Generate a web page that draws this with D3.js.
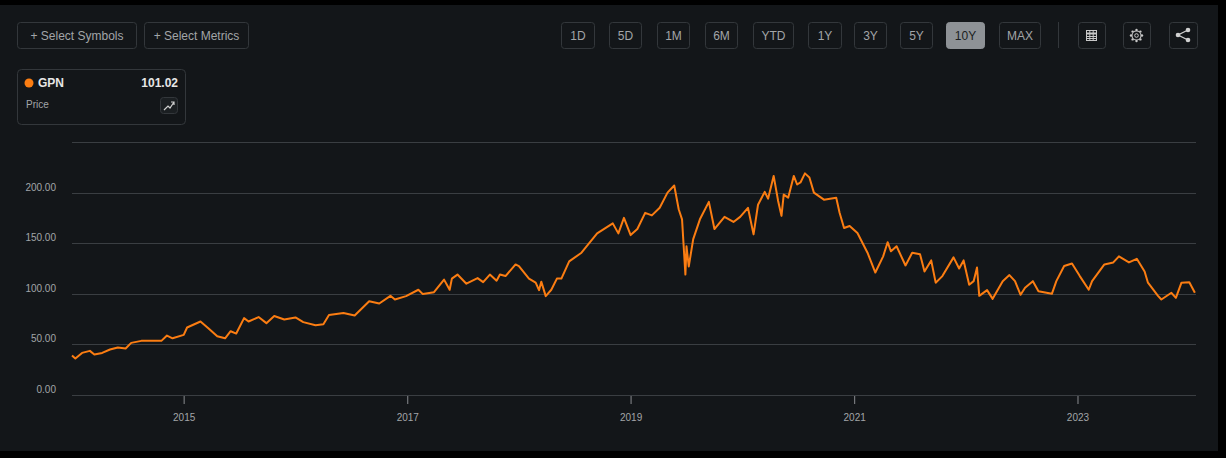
<!DOCTYPE html>
<html>
<head>
<meta charset="utf-8">
<script src="https://cdn.jsdelivr.net/npm/d3@7"></script>
<style>
  html, body { margin: 0; padding: 0; background: #000; }
  svg { display: block; font-family: "Liberation Sans", Arial, sans-serif; }
</style>
</head>
<body>
<div id="chart"></div>
<script>
// price series, time as decimal year
const years = [2014.0, 2014.03, 2014.09, 2014.16, 2014.2, 2014.27, 2014.34, 2014.41, 2014.48, 2014.53, 2014.62, 2014.8, 2014.85, 2014.9, 2015.0,
  2015.03, 2015.15, 2015.22, 2015.3, 2015.37, 2015.42, 2015.47, 2015.54, 2015.58, 2015.67, 2015.74, 2015.81, 2015.9, 2016.0,
  2016.07, 2016.18, 2016.25, 2016.3, 2016.43, 2016.53, 2016.66, 2016.75, 2016.85, 2016.89, 2016.99,
  2017.1, 2017.14, 2017.24, 2017.33, 2017.38, 2017.4, 2017.45, 2017.53, 2017.63, 2017.68, 2017.74, 2017.8, 2017.83, 2017.88, 2017.97,
  2018.0, 2018.09, 2018.15, 2018.18, 2018.2, 2018.24, 2018.29, 2018.34, 2018.38, 2018.45, 2018.56, 2018.7, 2018.84, 2018.89, 2018.94,
  2019.0, 2019.06, 2019.13, 2019.19, 2019.26, 2019.33, 2019.39, 2019.43, 2019.46, 2019.49, 2019.5, 2019.52, 2019.56, 2019.62, 2019.7,
  2019.75, 2019.84, 2019.92, 2019.98, 2020.05, 2020.1, 2020.14, 2020.2, 2020.23, 2020.28, 2020.32, 2020.35, 2020.37, 2020.41, 2020.46,
  2020.49, 2020.52, 2020.56, 2020.6, 2020.64, 2020.73, 2020.84, 2020.87, 2020.91, 2020.96, 2021.03, 2021.12, 2021.19, 2021.26, 2021.3,
  2021.33, 2021.38, 2021.46, 2021.52, 2021.59, 2021.63, 2021.69, 2021.73, 2021.79, 2021.89, 2021.94, 2021.98, 2022.03, 2022.07, 2022.1,
  2022.12, 2022.19, 2022.24, 2022.33, 2022.39, 2022.44, 2022.49, 2022.53, 2022.6, 2022.65, 2022.77, 2022.81, 2022.88, 2022.95, 2023.02,
  2023.1, 2023.13, 2023.24, 2023.32, 2023.37, 2023.46, 2023.53, 2023.6, 2023.63, 2023.72, 2023.75, 2023.84, 2023.88, 2023.93, 2024.0, 2024.05];
const prices = [39, 36, 41.6, 43.6, 40, 41.6, 45, 47, 46, 51.5, 53.5, 53.5, 58.7, 56, 59.4,
  66.7, 72.6, 66, 58, 56, 63, 60.7, 76, 72.6, 77, 71, 78, 74.6, 76.6,
  72, 69, 70, 79, 81, 78.5, 92.7, 90.4, 98, 94.4, 97.7,
  104, 99.7, 101.6, 114, 104, 115, 119, 110, 115.5, 111.5, 119, 113, 119, 117.5, 129,
  127.4, 115, 111, 103.6, 112, 97.7, 104, 115, 115, 132, 140.6, 159.7, 169.6, 159.7, 175,
  158, 164, 180, 177.5, 185, 200, 207, 183.5, 173.6, 119, 147, 127, 154, 173.6, 190.8,
  164, 176, 171, 176, 185, 158.7, 188, 200.7, 194, 216.5, 191.7, 177, 198, 195, 216.5,
  208, 210, 219, 215, 200, 193, 195, 180, 165, 167, 160, 140.6, 121, 137, 151,
  142, 147, 128, 140.6, 139, 122, 133, 111, 117.5, 136, 125, 133, 109, 112.5, 126,
  98, 103.6, 95, 112.5, 118.5, 112.5, 99, 106, 112.5, 102.6, 100, 112.5, 127.4, 130, 117.5,
  104, 112.5, 129, 131, 137, 131, 134.6, 122, 111, 98, 94.4, 101, 96, 111, 111.5, 101];
const yTicks = [0, 50, 100, 150, 200, 250];
const xTickYears = [2015, 2017, 2019, 2021, 2023];
const ranges = ["1D", "5D", "1M", "6M", "YTD", "1Y", "3Y", "5Y", "10Y", "MAX"];
const activeRange = "10Y";

const W = 1226, H = 458;
const toDate = y => new Date(Date.UTC(2014, 0, 1) + (y - 2014) * 365.25 * 864e5);
const data = years.map((y, i) => ({ date: toDate(y), value: prices[i] }));

const svg = d3.select("#chart").append("svg").attr("width", W).attr("height", H);
svg.append("rect").attr("width", W).attr("height", H).attr("fill", "#000");
svg.append("rect").attr("x", 0).attr("y", 5).attr("width", 1218).attr("height", 446).attr("fill", "#131619");

// top-left buttons
function button(x, y, w, h, label, opts = {}) {
  const g = svg.append("g");
  g.append("rect").attr("x", x + 0.5).attr("y", y + 0.5).attr("width", w).attr("height", h).attr("rx", 3)
    .attr("fill", opts.fill || "none").attr("stroke", opts.stroke || "#33373b");
  if (label) g.append("text").attr("x", x + w / 2 + 0.5).attr("y", y + h / 2 + 4.5).attr("text-anchor", "middle")
    .attr("font-size", 12).attr("fill", opts.color || "#a2a5a8").text(label);
  return g;
}
button(17, 22, 119, 26, "+ Select Symbols");
button(144, 22, 104, 26, "+ Select Metrics");

// legend card
svg.append("rect").attr("x", 17.5).attr("y", 69.5).attr("width", 168).attr("height", 55).attr("rx", 4)
  .attr("fill", "none").attr("stroke", "#33373b");
svg.append("circle").attr("cx", 29).attr("cy", 83).attr("r", 4.5).attr("fill", "#fb7d12");
svg.append("text").attr("x", 38).attr("y", 87).attr("font-size", 12).attr("font-weight", "bold").attr("fill", "#e6e6e6").text("GPN");
svg.append("text").attr("x", 178).attr("y", 87).attr("text-anchor", "end").attr("font-size", 12).attr("font-weight", "bold").attr("fill", "#e6e6e6").text("101.02");
svg.append("text").attr("x", 26).attr("y", 108).attr("font-size", 10).attr("fill", "#a2a5a8").text("Price");
svg.append("rect").attr("x", 160.5).attr("y", 97.5).attr("width", 17).attr("height", 16).attr("rx", 3).attr("fill", "#1b1f22").attr("stroke", "#33373b");
svg.append("path").attr("d", "M164 110 L168 106 L170 108 L174 102 M171 102 L174 102 L174 105").attr("fill", "none").attr("stroke", "#d0d0d0").attr("stroke-width", 1.2);

// range buttons
const rx = [561, 609, 657, 705, 753, 808, 854, 900, 946, 999];
const rw = [33, 32, 32, 32, 40, 33, 32, 32, 38, 41];
ranges.forEach((r, i) => {
  const active = r === activeRange;
  button(rx[i], 22, rw[i], 26, r, active ? { fill: "#8e9296", stroke: "#8e9296", color: "#1b1e21" } : {});
});
svg.append("line").attr("x1", 1058.5).attr("x2", 1058.5).attr("y1", 22).attr("y2", 48).attr("stroke", "#33373b");
// icon buttons
button(1078, 22, 27, 26);
button(1123, 22, 27, 26);
button(1169, 22, 28, 26);
const tbl = svg.append("g").attr("stroke", "#c8c8c8").attr("fill", "none");
tbl.append("rect").attr("x", 1086.5).attr("y", 30.5).attr("width", 10).attr("height", 10);
tbl.append("line").attr("x1", 1086.5).attr("x2", 1096.5).attr("y1", 33.5).attr("y2", 33.5).attr("stroke-width", 2);
[36.5, 38.5].forEach(y => tbl.append("line").attr("x1", 1086.5).attr("x2", 1096.5).attr("y1", y).attr("y2", y));
[89.8, 93.2].forEach(x => tbl.append("line").attr("x1", 1000 + x).attr("x2", 1000 + x).attr("y1", 30.5).attr("y2", 40.5));
// gear
const gear = d3.range(8).map(i => {
  const a = i * Math.PI / 4;
  return [1136.5 + Math.cos(a) * 5.5, 35.5 + Math.sin(a) * 5.5];
});
svg.append("g").selectAll("circle.tooth").data(gear).join("circle")
  .attr("cx", d => d[0]).attr("cy", d => d[1]).attr("r", 1.2).attr("fill", "#c8c8c8");
svg.append("circle").attr("cx", 1136.5).attr("cy", 35.5).attr("r", 4.5).attr("fill", "#131619").attr("stroke", "#c8c8c8").attr("stroke-width", 1.1);
svg.append("circle").attr("cx", 1136.5).attr("cy", 35.5).attr("r", 1.8).attr("fill", "none").attr("stroke", "#c8c8c8");
// share
const sh = svg.append("g").attr("fill", "#d0d0d0");
sh.append("path").attr("d", "M1188 30 L1178 35 L1188 40").attr("stroke", "#d0d0d0").attr("fill", "none").attr("stroke-width", 1.3);
[[1188, 30], [1178, 35], [1188, 40]].forEach(p => sh.append("circle").attr("cx", p[0]).attr("cy", p[1]).attr("r", 2.3));

// plot
const x = d3.scaleTime().domain([toDate(2014.0), toDate(2024.06)]).range([72, 1196]);
const y = d3.scaleLinear().domain([0, 250]).range([395, 142]);

svg.append("g").selectAll("line").data(yTicks).join("line")
  .attr("x1", 72).attr("x2", 1196).attr("y1", d => Math.round(y(d)) + 0.5).attr("y2", d => Math.round(y(d)) + 0.5)
  .attr("stroke", "#3a3e42").attr("stroke-width", 1);
svg.append("g").selectAll("text").data(yTicks.filter(d => d <= 200)).join("text")
  .attr("x", 56).attr("y", d => y(d) - 2).attr("text-anchor", "end").attr("font-size", 10).attr("fill", "#a2a5a8")
  .text(d => d3.format(".2f")(d));

const xAxis = d3.axisBottom(x).tickValues(xTickYears.map(yr => new Date(Date.UTC(yr, 0, 1))))
  .tickFormat(d3.utcFormat("%Y")).tickSize(8).tickPadding(10);
const gx = svg.append("g").attr("transform", "translate(0,396)").call(xAxis);
gx.select(".domain").remove();
gx.selectAll("line").attr("stroke", "#8a8d90");
gx.selectAll("text").attr("fill", "#a2a5a8").attr("font-size", 10).attr("font-family", "Liberation Sans, Arial, sans-serif");

const line = d3.line().x(d => x(d.date)).y(d => y(d.value)).curve(d3.curveLinear);
svg.append("path").datum(data).attr("d", line).attr("fill", "none")
  .attr("stroke", "#fb7d12").attr("stroke-width", 2).attr("stroke-linejoin", "round");
</script>
</body>
</html>
